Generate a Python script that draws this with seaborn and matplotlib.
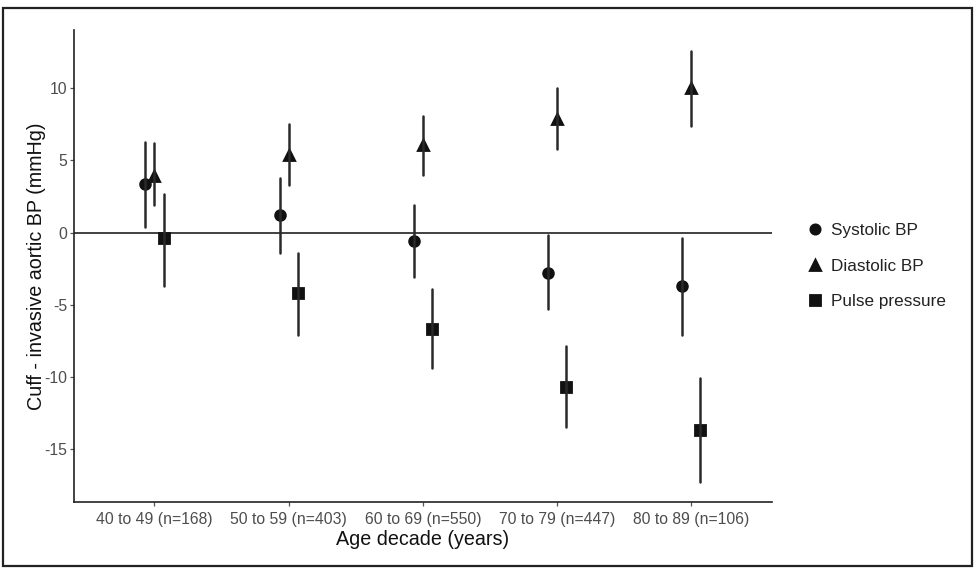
import numpy as np
import pandas as pd
import seaborn as sns
import matplotlib.pyplot as plt
from matplotlib.patches import Rectangle

# values (mmHg)
age_groups = ["40 to 49 (n=168)", "50 to 59 (n=403)", "60 to 69 (n=550)",
              "70 to 79 (n=447)", "80 to 89 (n=106)"]
measures = ["Systolic BP", "Diastolic BP", "Pulse pressure"]

systolic_est = [3.4, 1.2, -0.6, -2.8, -3.7]
systolic_lo = [0.4, -1.4, -3.1, -5.3, -7.1]
systolic_hi = [6.3, 3.75, 1.9, -0.2, -0.4]

diastolic_est = [3.9, 5.4, 6.1, 7.9, 10.0]
diastolic_lo = [1.9, 3.3, 4.0, 5.8, 7.4]
diastolic_hi = [6.2, 7.5, 8.1, 10.0, 12.6]

pulse_est = [-0.4, -4.2, -6.7, -10.7, -13.7]
pulse_lo = [-3.7, -7.1, -9.4, -13.5, -17.3]
pulse_hi = [2.7, -1.4, -3.95, -7.85, -10.1]

series = {
    "Systolic BP": (systolic_lo, systolic_est, systolic_hi),
    "Diastolic BP": (diastolic_lo, diastolic_est, diastolic_hi),
    "Pulse pressure": (pulse_lo, pulse_est, pulse_hi),
}

# long table: three rows per group (lower, estimate, upper); median gives the
# estimate and the min/max interval gives the error bar
rows = []
for m, (lo, est, hi) in series.items():
    for g, a, b, c in zip(age_groups, lo, est, hi):
        for v in (a, b, c):
            rows.append({"age": g, "measure": m, "diff": v})
df = pd.DataFrame(rows)

sns.set_style("white")
plt.rcParams["font.family"] = ["Liberation Sans", "DejaVu Sans"]

fig = plt.figure(figsize=(9.77, 5.74), dpi=100)
ax = fig.add_axes([0.0757, 0.1254, 0.7143, 0.8223])

ax.axhline(0, color="#333333", lw=1.3, zorder=0)

sns.pointplot(data=df, x="age", y="diff", hue="measure", order=age_groups,
              hue_order=measures, estimator="median",
              errorbar=lambda x: (x.min(), x.max()),
              palette=["#111111"] * 3, markers=["o", "^", "s"],
              linestyles="none", dodge=0.135, markersize=7,
              err_kws={"linewidth": 1.8, "color": "#2a2a2a"}, ax=ax)

ax.set_xlim(-0.6, 4.6)
ax.set_ylim(-18.7, 14.05)
ax.set_yticks([10, 5, 0, -5, -10, -15])
ax.set_yticklabels(["10", "5", "0", "-5", "-10", "-15"])

for s in ["top", "right"]:
    ax.spines[s].set_visible(False)
for s in ["left", "bottom"]:
    ax.spines[s].set_color("#222222")
    ax.spines[s].set_linewidth(1.2)

ax.tick_params(axis="both", which="both", direction="out", length=3,
               width=0.9, color="#555555", labelcolor="#4d4d4d",
               labelsize=11.3, bottom=True, left=True, pad=4)
ax.tick_params(axis="y", pad=2)
ax.set_xlabel("Age decade (years)", fontsize=14.2, color="#111111", labelpad=2)
ax.set_ylabel("Cuff - invasive aortic BP (mmHg)", fontsize=14.2,
              color="#111111", labelpad=-1.5)

handles, labels = ax.get_legend_handles_labels()
ax.legend(handles, labels, loc="center left", bbox_to_anchor=(1.025, 0.5),
          frameon=False, fontsize=12.3, handletextpad=0.35, labelspacing=1.2,
          markerscale=0.95, handlelength=1.2, labelcolor="#222222")

fig.patches.append(Rectangle((0.003, 0.014), 0.992, 0.972, transform=fig.transFigure,
                             fill=False, edgecolor="#222222", linewidth=1.6))

fig.savefig("out.png", dpi=100)
